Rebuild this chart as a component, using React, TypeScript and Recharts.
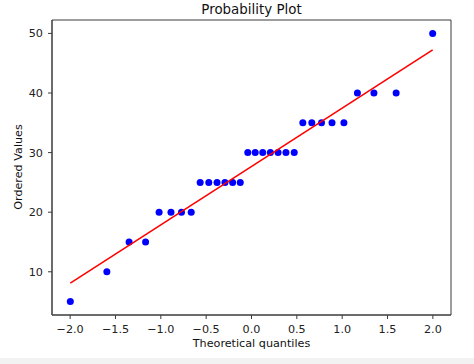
import { ScatterChart, Scatter, XAxis, YAxis, ReferenceArea } from 'recharts'

// theoretical quantiles (x) and ordered values (y)
const quantiles = [
  -1.998, -1.595, -1.35, -1.168, -1.019, -0.888, -0.772, -0.665, -0.566, -0.471,
  -0.38, -0.293, -0.208, -0.124, -0.041, 0.041, 0.124, 0.208, 0.293, 0.38,
  0.471, 0.566, 0.665, 0.772, 0.888, 1.019, 1.168, 1.35, 1.595, 1.998,
]
const orderedValues = [
  5, 10, 15, 15, 20, 20, 20, 20, 25, 25,
  25, 25, 25, 25, 30, 30, 30, 30, 30, 30,
  30, 35, 35, 35, 35, 35, 40, 40, 40, 50,
]
const fitX = [-1.998, 1.998]
const fitY = [8.1, 47.25]

const xTicks = [-2, -1.5, -1, -0.5, 0, 0.5, 1, 1.5, 2]
const yTicks = [10, 20, 30, 40, 50]
const xDomain = [-2.2, 2.2]
const yDomain = [2.75, 52.25]

const points = quantiles.map((x, i) => ({ x, y: orderedValues[i] }))
const fitLine = fitX.map((x, i) => ({ x, y: fitY[i] }))

const FONT = '"DejaVu Sans", sans-serif'
const SPINE = '#3a3a3a'
const tickStyle = { fontSize: 11.2, fill: '#222', fontFamily: FONT }

const fmtX = (v: number) => v.toFixed(1).replace('-', '\u2212')

export default function App() {
  return (
    <div style={{ position: 'absolute', left: 0, top: 0, width: 474, height: 364, background: '#fff', fontFamily: FONT }}>
      <ScatterChart width={474} height={358} margin={{ top: 20, right: 23, left: 12, bottom: 13 }}>
        <XAxis
          type="number"
          dataKey="x"
          xAxisId="b"
          domain={xDomain}
          ticks={xTicks}
          tickFormatter={fmtX}
          allowDataOverflow
          height={30}
          tickSize={4}
          tickMargin={6}
          tick={tickStyle}
          stroke={SPINE}
          tickLine={{ stroke: SPINE }}
        />
        <YAxis
          type="number"
          dataKey="y"
          yAxisId="l"
          domain={yDomain}
          ticks={yTicks}
          allowDataOverflow
          width={40}
          tickSize={4}
          tickMargin={5}
          tick={tickStyle}
          stroke={SPINE}
          tickLine={{ stroke: SPINE }}
        />
        <ReferenceArea
          xAxisId="b"
          yAxisId="l"
          x1={xDomain[0]}
          x2={xDomain[1]}
          y1={yDomain[0]}
          y2={yDomain[1]}
          fill="none"
          fillOpacity={0}
          stroke={SPINE}
          strokeWidth={1}
          ifOverflow="visible"
        />
        <Scatter
          data={points}
          xAxisId="b"
          yAxisId="l"
          fill="#0000ff"
          isAnimationActive={false}
          shape={(p: any) => <circle cx={p.cx} cy={p.cy} r={3.5} fill="#0000ff" />}
        />
        <Scatter
          data={fitLine}
          xAxisId="b"
          yAxisId="l"
          line={{ stroke: '#ff0000', strokeWidth: 1.6 }}
          lineType="joint"
          isAnimationActive={false}
          shape={() => <g />}
        />
      </ScatterChart>
      <div style={{ position: 'absolute', left: 52, width: 399, top: 2, textAlign: 'center', fontSize: 13.4, color: '#111' }}>
        Probability Plot
      </div>
      <div style={{ position: 'absolute', left: 52, width: 399, top: 337, textAlign: 'center', fontSize: 11.2, color: '#111' }}>
        Theoretical quantiles
      </div>
      <div
        style={{
          position: 'absolute', left: 18, top: 167, width: 200, marginLeft: -100, textAlign: 'center',
          fontSize: 11.2, color: '#111', transform: 'translateY(-50%) rotate(-90deg)', lineHeight: '13px',
        }}
      >
        Ordered Values
      </div>
      <div style={{ position: 'absolute', left: 0, top: 358, width: 474, height: 6, background: '#f2f2f2' }} />
    </div>
  )
}
